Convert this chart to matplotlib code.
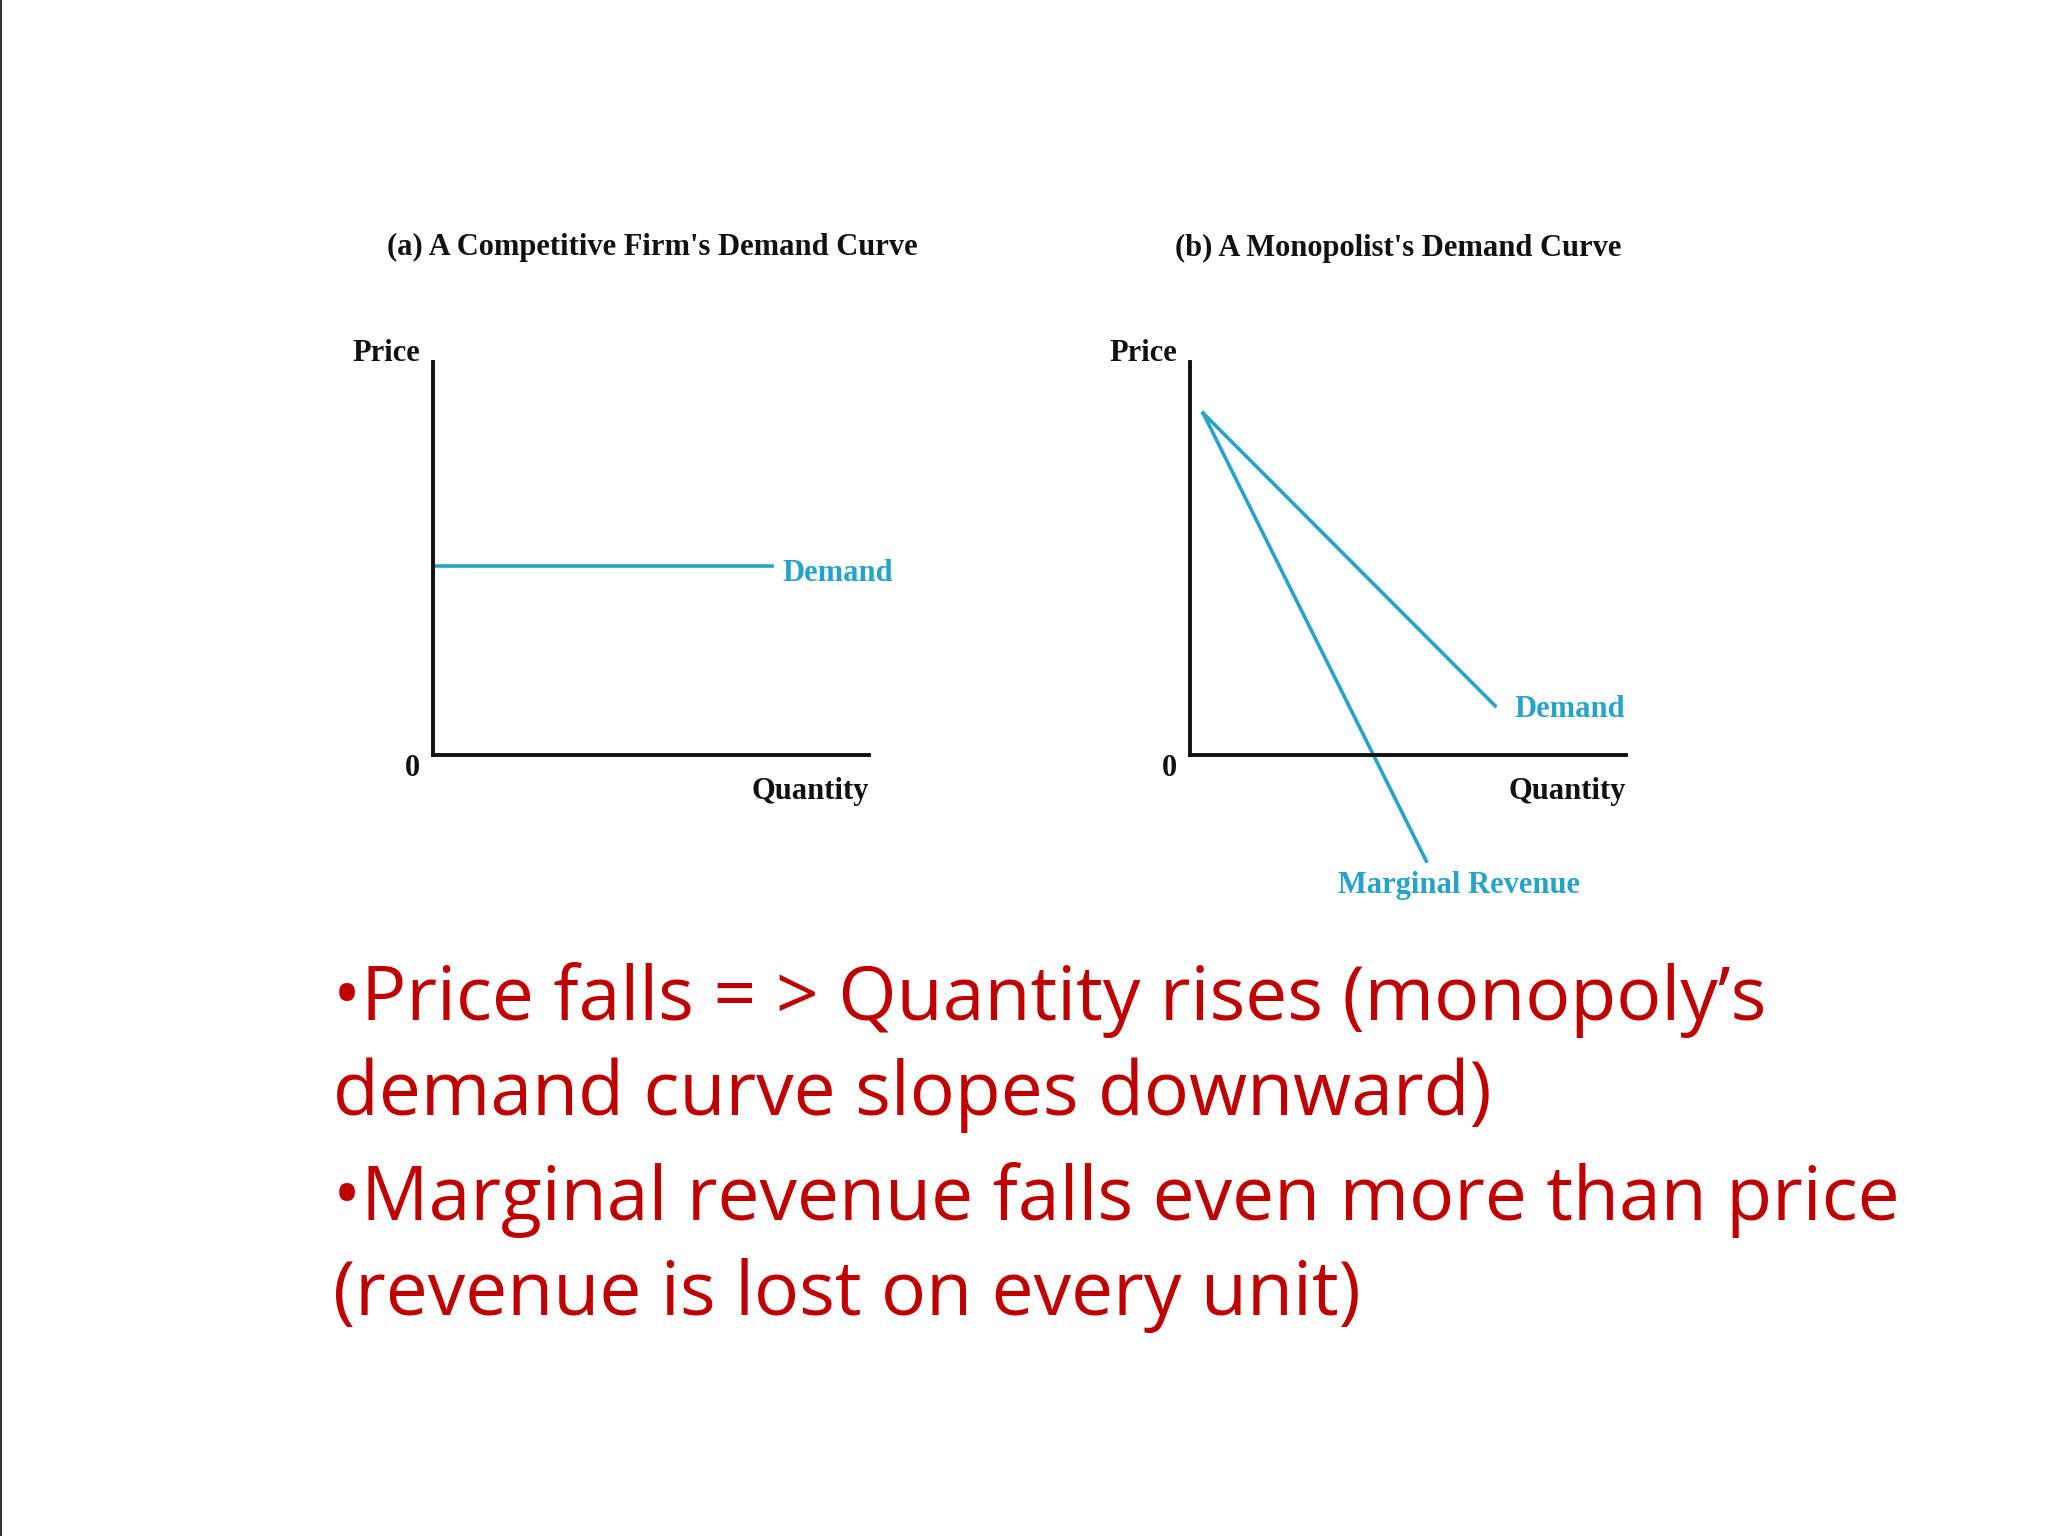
import matplotlib.pyplot as plt
from matplotlib.lines import Line2D

W, H = 2048, 1536

# panel (a): competitive firm, flat demand
comp_price = 4.8
comp_qty = [0.0, 7.78]

# panel (b): monopolist, demand and marginal revenue (qty, price)
mono_demand_q = [0.3, 7.0]
mono_demand_p = [8.7, 1.25]
mono_mr_q = [0.3, 5.42]
mono_mr_p = [8.7, -2.7]

titles = ["(a) A Competitive Firm's Demand Curve", "(b) A Monopolist's Demand Curve"]
bullets = [
    "\u2022Price falls = > Quantity rises (monopoly\u2019s",
    "demand curve slopes downward)",
    "\u2022Marginal revenue falls even more than price",
    "(revenue is lost on every unit)",
]

line_col = '#25a3ca'
ink = '#111111'
serif = 'Liberation Serif'
fs = 22

fig = plt.figure(figsize=(W / 100, H / 100), dpi=100)
fig.patch.set_facecolor('white')


def px_axes(x0, y0, x1, y1):
    # axes box from pixel corners: (x0, y0) origin, (x1, y1) top right, y from top
    return fig.add_axes([x0 / W, 1 - y0 / H, (x1 - x0) / W, (y0 - y1) / H])


def setup(ax):
    ax.set_xlim(0, 10)
    ax.set_ylim(0, 10)
    for s in ['top', 'right']:
        ax.spines[s].set_visible(False)
    for s in ['left', 'bottom']:
        ax.spines[s].set_linewidth(2.8)
        ax.spines[s].set_color(ink)
    ax.set_xticks([])
    ax.set_yticks([])
    ax.patch.set_alpha(0)
    ax.text(-0.3, 10.22, 'Price', ha='right', va='center', fontsize=fs,
            fontweight='bold', family=serif, color=ink)
    ax.text(-0.3, -0.35, '0', ha='right', va='center', fontsize=fs,
            fontweight='bold', family=serif, color=ink)
    ax.text(10, -0.93, 'Quantity', ha='right', va='center', fontsize=fs,
            fontweight='bold', family=serif, color=ink)


ax1 = px_axes(433, 755, 869, 362)
setup(ax1)
ax1.plot(comp_qty, [comp_price, comp_price], color=line_col, lw=2.6, clip_on=False)
ax1.text(8.02, 4.62, 'Demand', ha='left', va='center', fontsize=fs,
         fontweight='bold', family=serif, color=line_col)

ax2 = px_axes(1190, 755, 1626, 362)
setup(ax2)
ax2.plot(mono_demand_q, mono_demand_p, color=line_col, lw=2.6, clip_on=False)
ax2.plot(mono_mr_q, mono_mr_p, color=line_col, lw=2.6, clip_on=False)
ax2.text(7.43, 1.17, 'Demand', ha='left', va='center', fontsize=fs,
         fontweight='bold', family=serif, color=line_col)
ax2.text(6.17, -3.31, 'Marginal Revenue', ha='center', va='center', fontsize=fs,
         fontweight='bold', family=serif, color=line_col)

fig.text(652 / W, 1 - 247 / H, titles[0], ha='center', va='center', fontsize=fs,
         fontweight='bold', family=serif, color=ink)
fig.text(1398 / W, 1 - 248 / H, titles[1], ha='center', va='center', fontsize=fs,
         fontweight='bold', family=serif, color=ink)

baselines = [1020, 1115, 1220, 1315]
for txt, yb in zip(bullets, baselines):
    fig.text(333 / W, 1 - yb / H, txt, ha='left', va='baseline', fontsize=54,
             family=['Open Sans', 'DejaVu Sans'], color='#c00000')

# slide edge on the left
fig.add_artist(Line2D([1 / W, 1 / W], [0, 1], color='#333333', lw=1.5,
                      transform=fig.transFigure))

fig.savefig('out.png', dpi=100, facecolor='white')
